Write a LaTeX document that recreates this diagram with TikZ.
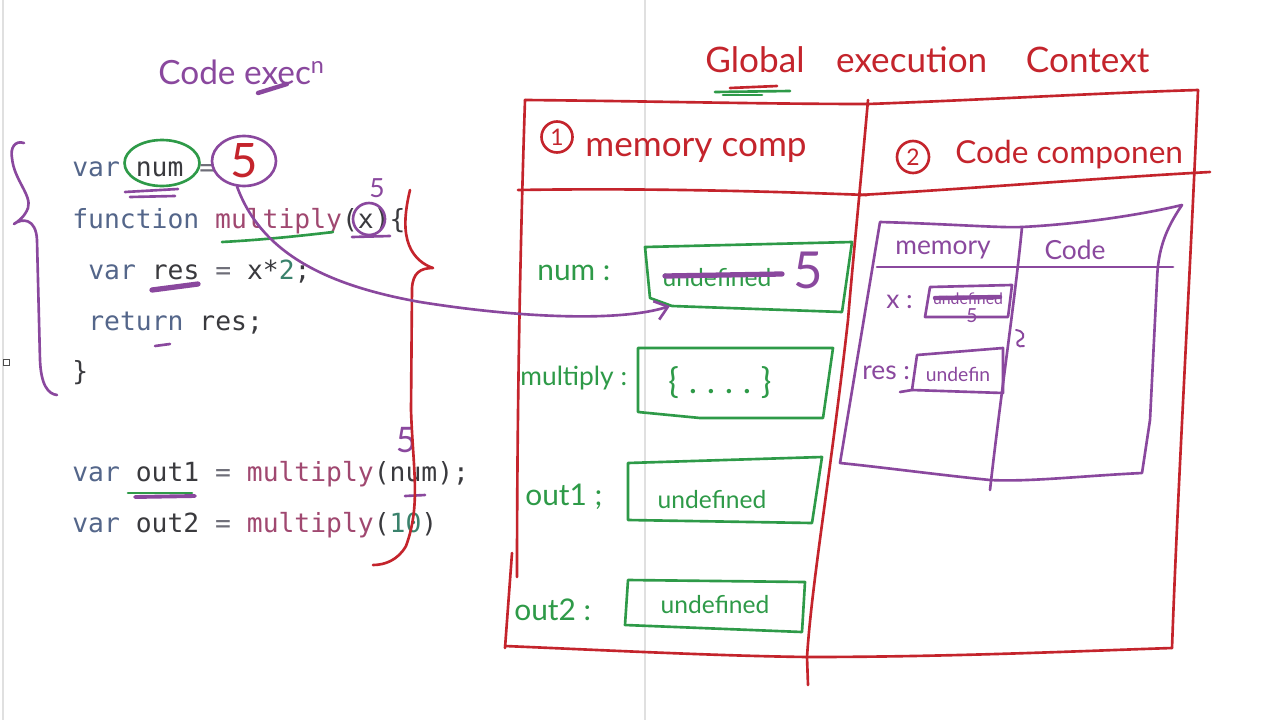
\documentclass[tikz,border=0pt]{standalone}
\usepackage{fontspec}
\usetikzlibrary{arrows.meta,shapes.geometric}
\newfontfamily\codefont{DejaVu Sans Mono}
\newfontfamily\hand{Lato}
\definecolor{pr}{RGB}{138,72,158}
\definecolor{gr}{RGB}{46,154,72}
\definecolor{rd}{RGB}{196,36,44}
\definecolor{kw}{RGB}{84,102,138}
\definecolor{idc}{RGB}{58,58,62}
\definecolor{fn}{RGB}{160,72,112}
\definecolor{nm}{RGB}{58,130,108}
\definecolor{op}{RGB}{110,110,120}
\begin{document}
\begin{tikzpicture}[x=0.02cm,y=-0.02cm,
  pen/.style={line width=1.5pt,line cap=round,line join=round},
  redpen/.style={pen,draw=rd},
  greenpen/.style={pen,draw=gr},
  purplepen/.style={pen,draw=pr},
  code/.style={anchor=base west,inner sep=0pt,font=\codefont\fontsize{15}{18}\selectfont},
  hw/.style={inner sep=0pt,font=\hand\fontsize{#1}{#1}\selectfont},
  ring/.style={pen,inner sep=0pt}]
\fill[white] (0,0) rectangle (1280,720);
\useasboundingbox (0,0) rectangle (1280,720);
% screen guide lines
\draw[black!12,line width=0.6pt] (645,0) -- (645,720);
\draw[black!12,line width=0.6pt] (3,0) -- (3,720);
\draw[black!70,line width=0.5pt] (3,359) rectangle (9,365);

% ---------- code ----------
\node[code] (c1) at (72,176) {\textcolor{kw}{var} \textcolor{idc}{num} \textcolor{op}{=}};
\node[code] (c2) at (72,228) {\textcolor{kw}{function} \textcolor{fn}{multiply}\textcolor{idc}{(x)\{}};
\node[code] (c3) at (88,279) {\textcolor{kw}{var} \textcolor{idc}{res} \textcolor{op}{=} \textcolor{idc}{x*}\textcolor{nm}{2}\textcolor{idc}{;}};
\node[code] (c4) at (88,330) {\textcolor{kw}{return} \textcolor{idc}{res;}};
\node[code] (c5) at (72,380) {\textcolor{idc}{\}}};
\node[code] (c6) at (72,481) {\textcolor{kw}{var} \textcolor{idc}{out1} \textcolor{op}{=} \textcolor{fn}{multiply}\textcolor{idc}{(num);}};
\node[code] (c7) at (72,532) {\textcolor{kw}{var} \textcolor{idc}{out2} \textcolor{op}{=} \textcolor{fn}{multiply}\textcolor{idc}{(}\textcolor{nm}{10}\textcolor{idc}{)}};

% annotations on code
\node[ellipse,draw=gr,ring,minimum width=1.5cm,minimum height=0.92cm] (numring) at (162,163) {};
\node[ellipse,draw=pr,ring,text=rd,hw=27,minimum width=1.28cm,minimum height=1.0cm] (five) at (244,161) {5};
\draw[purplepen] (125,192) -- (178,189);
\draw[purplepen] (130,197) -- (175,196);
\draw[greenpen] (222,242) .. controls (260,240) and (300,236) .. (333,232);
\node[circle,draw=pr,ring,minimum size=0.64cm] (xring) at (369,219) {};
\node[hw=15,text=pr] (x5) at (377,188) {5};
\draw[purplepen] (352,237) -- (390,236);
\draw[purplepen,line width=3pt] (152,290) -- (198,284);
\draw[purplepen] (155,346) -- (170,344);
\draw[greenpen] (128,493) -- (192,493);
\draw[purplepen,line width=2.2pt] (135,497) -- (195,496);
\node[hw=20,text=pr] (o5) at (406,440) {5};
\draw[purplepen] (415,478) -- (415,500);
\draw[purplepen] (405,496) -- (425,495);
\node[hw=19,text=pr,anchor=west] (cx) at (158,72) {Code exec\textsuperscript{n}};
\draw[purplepen,line width=2.5pt] (258,93) -- (287,84);

% braces
\draw[purplepen] (24,143) .. controls (15,140) and (10,148) .. (12,158)
  .. controls (14,180) and (32,195) .. (28,208) .. controls (25,216) and (19,221) .. (14,224)
  .. controls (22,218) and (36,218) .. (37,240) -- (40,360)
  .. controls (41,385) and (48,394) .. (57,395);
\draw[redpen] (410,190) .. controls (404,215) and (404,232) .. (409,245)
  .. controls (414,258) and (424,265) .. (433,268)
  .. controls (420,268) and (413,273) .. (412,288) -- (411,410)
  .. controls (413,470) and (421,505) .. (406,546)
  .. controls (398,560) and (385,565) .. (373,565);

% ---------- Global execution context ----------
\node[hw=20,text=rd,anchor=west] (title) at (705,60) {Global\hspace{18pt}execution\hspace{22pt}Context};
\draw[greenpen] (715,92) -- (790,91);
\draw[greenpen] (723,95) -- (762,95);
\draw[redpen] (730,88) -- (777,86);

% outer red frame
\draw[redpen] (525,100) .. controls (640,101) and (760,104) .. (868,104)
  .. controls (980,100) and (1100,93) .. (1198,90);
\draw[redpen] (525,100) .. controls (520,250) and (517,420) .. (517,577);
\draw[redpen] (512,553) -- (505,648);
\draw[redpen] (505,646) .. controls (600,650) and (720,656) .. (808,657)
  .. controls (950,657) and (1080,651) .. (1172,648);
\draw[redpen] (1198,90) .. controls (1190,280) and (1178,480) .. (1172,648);
\draw[redpen] (868,100) .. controls (860,190) and (852,270) .. (848,320)
  .. controls (830,480) and (812,580) .. (807,657) -- (808,685);
\draw[redpen] (518,190) .. controls (640,188) and (760,191) .. (867,195);
\draw[redpen] (860,195) .. controls (980,188) and (1100,178) .. (1210,172);
\node[circle,draw=rd,ring,text=rd,hw=13,minimum size=0.62cm] (n1) at (557,137) {1};
\node[hw=20,text=rd,anchor=west] (memh) at (585,150) {memory comp};
\node[circle,draw=rd,ring,text=rd,hw=13,minimum size=0.64cm] (n2) at (913,157) {2};
\node[hw=18,text=rd,anchor=west] (codeh) at (955,155) {Code componen};

% memory entries
\node[hw=17,text=gr,anchor=west] (lnum) at (537,273) {num :};
\node[hw=15,text=gr,anchor=west] (lmul) at (520,378) {multiply :};
\node[hw=17,text=gr,anchor=west] (lo1) at (525,497) {out1 ;};
\node[hw=17,text=gr,anchor=west] (lo2) at (514,610) {out2 :};

\draw[greenpen] (645,247) -- (852,242) -- (842,312) -- (672,306) -- (650,298) -- cycle;
\coordinate (numarrow) at (670,306);
\node[hw=14,text=gr] (vnum) at (717,278) {undefined};
\draw[purplepen,line width=3pt] (665,276) -- (782,274);
\node[hw=29,text=pr] (v5) at (808,270) {5};

\draw[greenpen] (638,348) -- (833,348) -- (823,418) -- (700,418) -- (638,412) -- cycle;
\node[hw=20,text=gr] (vmul) at (720,383) {\{\;.\;.\;.\;.\;\}};

\draw[greenpen] (628,463) -- (822,457) -- (812,523) -- (628,520) -- cycle;
\node[hw=14,text=gr] (vo1) at (712,500) {undefined};

\draw[greenpen] (628,580) -- (805,582) -- (802,632) -- (625,625) -- cycle;
\node[hw=14,text=gr] (vo2) at (715,605) {undefined};

% arrow from 5 to num's box
\draw[purplepen,-{Straight Barb[length=7pt,width=11pt]}] (five.255)
  .. controls (262,255) and (330,286) .. (420,302)
  .. controls (520,318) and (620,322) .. (numarrow);

% ---------- function execution context ----------
\draw[purplepen] (880,222) .. controls (950,224) and (1000,228) .. (1022,227)
  .. controls (1080,224) and (1140,215) .. (1182,205)
  .. controls (1165,230) and (1158,250) .. (1157,280) -- (1150,420) -- (1142,473)
  .. controls (1080,476) and (1030,482) .. (990,480)
  .. controls (940,475) and (880,467) .. (840,463) -- cycle;
\draw[purplepen] (877,267) -- (1173,267);
\draw[purplepen] (1022,227) .. controls (1015,300) and (1000,400) .. (990,490);
\node[hw=15,text=pr] (mh) at (943,250) {memory};
\node[hw=15,text=pr] (ch) at (1075,250) {Code};
\node[hw=15,text=pr,anchor=west] (lx) at (886,302) {x :};
\draw[purplepen] (930,287) -- (1012,285) -- (1008,317) -- (925,317) -- cycle;
\node[hw=9,text=pr] (vx) at (968,299) {undefined};
\draw[purplepen,line width=2.5pt] (935,298) -- (1000,297);
\node[hw=11,text=pr] (vx5) at (972,316) {5};
\node[hw=15,text=pr,anchor=west] (lres) at (862,373) {res :};
\draw[purplepen] (917,355) -- (1003,348) -- (1003,393) -- (912,390) -- cycle;
\draw[purplepen] (900,392) -- (912,390);
\node[hw=11,text=pr] (vres) at (958,374) {undefin};
\draw[purplepen,line width=1.1pt] (1016,330) .. controls (1024,331) and (1026,337) .. (1020,340)
  .. controls (1014,343) and (1018,348) .. (1024,346);
\end{tikzpicture}
\end{document}
